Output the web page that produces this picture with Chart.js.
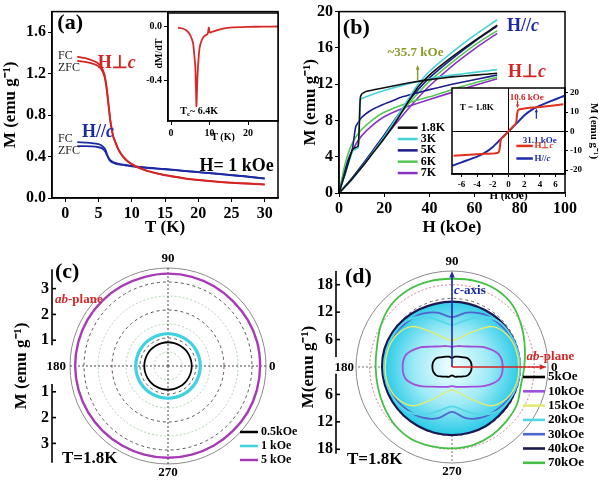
<!DOCTYPE html>
<html lang="en">
<head>
<meta charset="UTF-8" />
<title>Magnetization panels</title>
<style>
  html, body { margin: 0; background: #fff; }
  .wrap { position: relative; width: 600px; height: 485px; overflow: hidden; }
  .wrap canvas { position: absolute; }
</style>
<script src="https://cdn.jsdelivr.net/npm/chart.js"></script>
</head>
<body>
<div class="wrap">
  <canvas id="chartA" width="300" height="240" style="left:0;top:0"></canvas>
  <canvas id="insetA" width="145" height="140" style="left:145px;top:5px"></canvas>
  <canvas id="chartB" width="300" height="240" style="left:300px;top:0"></canvas>
  <canvas id="insetB" width="160" height="125" style="left:440px;top:80px"></canvas>
  <canvas id="chartC" width="300" height="245" style="left:0;top:240px"></canvas>
  <canvas id="chartD" width="300" height="245" style="left:300px;top:240px"></canvas>
</div>
<script>
// ---- (a) M vs T, H = 1 kOe
const tPerp = [1.8, 3, 4, 4.8, 5.4, 5.9, 6.2, 6.5, 6.8, 7.2, 7.6, 8.0, 8.7, 9.5, 10.5, 12, 14, 16, 18, 20, 22.5, 25, 27.5, 30];
const mPerpFC = [1.365, 1.35, 1.33, 1.305, 1.27, 1.19, 1.08, 0.91, 0.74, 0.6, 0.53, 0.47, 0.40, 0.35, 0.31, 0.27, 0.235, 0.21, 0.19, 0.175, 0.16, 0.148, 0.14, 0.132];
const mPerpZFC = [1.325, 1.315, 1.30, 1.28, 1.245, 1.17, 1.06, 0.895, 0.73, 0.595, 0.525, 0.465, 0.397, 0.348, 0.308, 0.268, 0.233, 0.208, 0.188, 0.173, 0.158, 0.146, 0.138, 0.13];
const tPar = [1.8, 3, 4, 5, 5.5, 6, 6.3, 6.6, 7, 7.5, 8, 9, 10, 12, 15, 18, 21, 24, 27, 30];
const mParFC = [0.54, 0.535, 0.53, 0.52, 0.505, 0.47, 0.42, 0.38, 0.355, 0.34, 0.33, 0.32, 0.31, 0.295, 0.28, 0.262, 0.245, 0.228, 0.21, 0.19];
const mParZFC = [0.50, 0.50, 0.498, 0.49, 0.48, 0.45, 0.41, 0.37, 0.345, 0.333, 0.325, 0.316, 0.306, 0.292, 0.277, 0.26, 0.243, 0.226, 0.208, 0.188];
const ticksTA = [0, 5, 10, 15, 20, 25, 30];
const ticksMA = [0, 0.4, 0.8, 1.2, 1.6];

// inset (a): dM/dT
const tDeriv = [1.8, 3, 4, 4.9, 5.7, 6.0, 6.3, 6.5, 6.6, 6.8, 7.0, 7.4, 8.0, 8.7, 9.5, 9.8, 10.1, 10.6, 11.7, 13.5, 16, 20, 24, 28];
const dMdT = [-0.008, -0.015, -0.03, -0.06, -0.12, -0.2, -0.3, -0.5, -0.59, -0.42, -0.3, -0.16, -0.1, -0.07, -0.055, -0.008, -0.045, -0.04, -0.03, -0.015, -0.007, -0.003, -0.001, 0];
const ticksTInset = [0, 10, 20];
const ticksDInset = [-0.4, 0];

// ---- (b) M vs H
const bTemps = ['1.8K', '3K', '5K', '6K', '7K'];
const hPerp18 = [0, 3, 6, 8.5, 9.4, 10, 12, 20, 30, 40, 50, 60, 70];
const mPerp18 = [0, 2.4, 4.8, 5.2, 10.4, 10.9, 11.2, 11.6, 12.1, 12.5, 12.8, 13.0, 13.2];
const hPerp3 = [0, 3, 6, 8.5, 9.2, 10, 15, 20, 30, 40, 50, 60, 70];
const mPerp3 = [0, 2.3, 4.6, 5.0, 10.1, 10.4, 10.9, 11.3, 12.0, 12.6, 13.0, 13.3, 13.6];
const hPerp5 = [0, 2, 4, 5.9, 7.4, 9.9, 14, 18, 23, 28, 34, 40, 50, 62, 70];
const mPerp5 = [0, 1.8, 3.6, 4.8, 7.3, 8.3, 9.1, 9.6, 10.1, 10.6, 11.0, 11.4, 12.0, 12.6, 13.0];
const hPerp67 = [0, 2.5, 5, 7.5, 10, 15, 20, 30, 40, 55, 70];
const mPerp6 = [0, 3.0, 5.0, 6.2, 7.0, 8.1, 8.9, 9.9, 10.6, 11.8, 12.8];
const mPerp7 = [0, 2.4, 4.2, 5.4, 6.3, 7.5, 8.4, 9.5, 10.3, 11.5, 12.6];
const hPar = [0, 5, 10, 15, 20, 25, 30, 35, 40, 50, 60, 70];
const mPar18 = [0, 1.3, 2.8, 4.4, 6.0, 7.8, 9.8, 11.7, 13.0, 15.0, 16.8, 18.5];
const mPar3 = [0, 1.3, 2.8, 4.5, 6.2, 8.1, 10.1, 12.0, 13.4, 15.5, 17.4, 19.1];
const mPar5 = [0, 1.4, 3.0, 4.7, 6.4, 8.2, 9.9, 11.4, 12.7, 14.8, 16.7, 18.4];
const mPar6 = [0, 1.4, 3.0, 4.6, 6.3, 8.0, 9.6, 11.0, 12.3, 14.4, 16.3, 17.9];
const mPar7 = [0, 1.4, 2.9, 4.5, 6.1, 7.6, 9.1, 10.5, 11.8, 14.0, 15.9, 17.6];
const ticksHB = [0, 20, 40, 60, 80, 100];
const ticksMB = [0, 4, 8, 12, 16, 20];

// inset (b): loops at T = 1.8 K
const hLoopPerp = [-7, -5, -3, -1.3, -1.1, -0.95, -0.5, 0, 0.5, 0.95, 1.1, 1.25, 2, 4, 7];
const mLoopPerp = [-12.6, -12.1, -11.6, -11.0, -8, -4.0, -2.2, 0, 2.2, 4.2, 9, 11.2, 11.8, 12.6, 14.0];
const hLoopPar = [-7.2, -6, -4, -3, -2, -1, 0, 1, 2, 3, 4, 6, 7.2];
const mLoopPar = [-17.8, -16.0, -13.0, -11.0, -8.0, -4.0, 0, 4.0, 8.2, 11.2, 13.3, 16.6, 18.5];
const ticksHLoop = [-6, -4, -2, 0, 2, 4, 6];
const ticksMLoop = [-20, -10, 0, 10, 20];

// ---- (c), (d) polar, angles 0..345 deg, counter-clockwise from the ab axis
const angles = [0, 15, 30, 45, 60, 75, 90, 105, 120, 135, 150, 165, 180, 195, 210, 225, 240, 255, 270, 285, 300, 315, 330, 345];
const cLabels = ['0.5kOe', '1 kOe', '5 kOe'];
const c05 = [0.92, 0.92, 0.92, 0.92, 0.92, 0.92, 0.92, 0.92, 0.92, 0.92, 0.92, 0.92, 0.92, 0.92, 0.92, 0.92, 0.92, 0.92, 0.92, 0.92, 0.92, 0.92, 0.92, 0.92];
const c1 = [1.25, 1.25, 1.25, 1.25, 1.25, 1.25, 1.25, 1.25, 1.25, 1.25, 1.25, 1.25, 1.25, 1.25, 1.25, 1.25, 1.25, 1.25, 1.25, 1.25, 1.25, 1.25, 1.25, 1.25];
const c5 = [3.57, 3.58, 3.57, 3.56, 3.57, 3.58, 3.58, 3.57, 3.58, 3.59, 3.6, 3.6, 3.6, 3.59, 3.58, 3.57, 3.56, 3.56, 3.56, 3.56, 3.56, 3.56, 3.57, 3.57];
const cRadialTicks = [1, 2, 3];

const dLabels = ['5kOe', '10kOe', '15kOe', '20kOe', '30kOe', '40kOe', '70kOe'];
const d5 = [4.3, 4.25, 3.9, 3.05, 2.6, 2.35, 1.95, 2.35, 2.6, 3.05, 3.9, 4.25, 4.3, 4.2, 3.8, 2.95, 2.45, 2.2, 1.85, 2.2, 2.45, 2.95, 3.8, 4.2];
const d10 = [11.1, 10.6, 8.5, 6.3, 5.2, 4.75, 4.4, 4.75, 5.2, 6.3, 8.4, 10.4, 10.8, 10.4, 8.3, 6.1, 5.0, 4.5, 4.2, 4.5, 5.0, 6.1, 8.3, 10.6];
const d15 = [14.6, 14.5, 14.0, 12.5, 8.8, 6.6, 5.8, 6.6, 8.8, 12.5, 14.0, 14.5, 14.6, 14.5, 13.8, 12.0, 8.0, 5.8, 5.0, 5.8, 8.0, 12.0, 13.8, 14.5];
const d20 = [14.9, 14.8, 14.6, 14.2, 12.8, 10.5, 9.2, 10.5, 12.8, 14.2, 14.6, 14.8, 14.9, 14.8, 14.5, 13.8, 12.0, 9.8, 8.6, 9.8, 12.0, 13.8, 14.5, 14.8];
const d30 = [14.8, 14.7, 14.4, 13.9, 13.4, 12.3, 10.9, 12.3, 13.4, 13.9, 14.4, 14.7, 14.8, 14.6, 14.2, 13.5, 12.8, 11.6, 9.8, 11.6, 12.8, 13.5, 14.2, 14.6];
const d40 = [14.8, 14.8, 14.7, 14.6, 14.4, 14.3, 14.3, 14.3, 14.5, 14.8, 15.1, 15.3, 15.3, 15.2, 15.1, 15.0, 14.9, 14.9, 14.9, 14.9, 14.9, 14.8, 14.8, 14.8];
const d70 = [15.8, 16.5, 17.6, 18.9, 19.5, 19.5, 19.3, 19.4, 19.4, 19.0, 18.0, 17.0, 16.7, 16.8, 17.2, 17.8, 18.1, 17.9, 17.8, 17.7, 17.3, 16.8, 16.4, 15.6];
const dRadialTicks = [6, 12, 18];

// ---- shared helpers
const SERIF = '"Liberation Serif", "Times New Roman", serif';
const f = (size, style) => (style || 'bold') + ' ' + size + 'px ' + SERIF;
const RED = '#d42424', BLUE = '#1c2aa6';
const bColors = ['#111111', '#45d3d8', '#1d1d8e', '#55c855', '#8a32c4'];
const cColors = ['#000000', '#3fd2e0', '#a83ab8'];
const dColors = ['#000000', '#a050d8', '#e2ea70', '#55d6e8', '#4f66cc', '#1a1850', '#44c044'];

function pts(xs, ys) { return xs.map((x, i) => ({ x: x, y: ys[i] })); }
function line(xs, ys, color, w) {
  return { data: pts(xs, ys), borderColor: color, borderWidth: w, showLine: true, pointRadius: 0, fill: false, tension: 0.25 };
}
function axis(min, max, ticks, title, size, fmt, tickFont, titleFont) {
  return {
    type: 'linear', min: min, max: max,
    afterBuildTicks: s => { s.ticks = ticks.map(v => ({ value: v })); },
    afterFit: s => { if (s.isHorizontal()) s.height = size; else s.width = size; },
    ticks: { font: tickFont, color: '#000', padding: 2, autoSkip: false, maxRotation: 0, callback: fmt },
    grid: { drawOnChartArea: false, tickLength: 4, color: '#000' },
    border: { color: '#000', width: 1.5 },
    title: { display: !!title, text: title, font: titleFont, color: '#000', padding: { top: 0, bottom: 2 } }
  };
}
function drawRich(ctx, x, y, parts, align) {
  let w = 0;
  parts.forEach(p => { ctx.font = p[1]; w += ctx.measureText(p[0]).width; });
  let cx = align === 'center' ? x - w / 2 : align === 'right' ? x - w : x;
  ctx.textBaseline = 'middle';
  ctx.textAlign = 'left';
  parts.forEach(p => {
    ctx.font = p[1];
    ctx.fillStyle = p[2];
    ctx.fillText(p[0], cx, y + (p[3] || 0));
    cx += ctx.measureText(p[0]).width;
  });
}
function arrow(ctx, x1, y1, x2, y2, color, w, head) {
  const a = Math.atan2(y2 - y1, x2 - x1);
  ctx.save();
  ctx.strokeStyle = color; ctx.fillStyle = color; ctx.lineWidth = w;
  ctx.beginPath(); ctx.moveTo(x1, y1); ctx.lineTo(x2 - Math.cos(a) * head * 0.6, y2 - Math.sin(a) * head * 0.6); ctx.stroke();
  ctx.beginPath();
  ctx.moveTo(x2, y2);
  ctx.lineTo(x2 - head * Math.cos(a - 0.4), y2 - head * Math.sin(a - 0.4));
  ctx.lineTo(x2 - head * Math.cos(a + 0.4), y2 - head * Math.sin(a + 0.4));
  ctx.closePath(); ctx.fill();
  ctx.restore();
}
function legendRows(ctx, x, y0, dy, len, labels, colors, font, lw) {
  labels.forEach((lab, i) => {
    const y = y0 + i * dy;
    ctx.strokeStyle = colors[i]; ctx.lineWidth = lw;
    ctx.beginPath(); ctx.moveTo(x, y); ctx.lineTo(x + len, y); ctx.stroke();
    drawRich(ctx, x + len + 3, y, [[lab, font, '#000']]);
  });
}
const frame = {
  id: 'frame',
  beforeDraw(chart, args, opts) {
    if (!opts.white) return;
    const a = chart.chartArea;
    chart.ctx.save(); chart.ctx.fillStyle = '#fff';
    chart.ctx.fillRect(a.left, a.top, a.width, a.height);
    chart.ctx.restore();
  },
  afterDraw(chart) {
    const a = chart.chartArea, ctx = chart.ctx;
    ctx.save(); ctx.strokeStyle = '#000'; ctx.lineWidth = 1.5;
    ctx.strokeRect(a.left, a.top, a.width, a.height);
    ctx.restore();
  }
};
const base = (padding, extra) => Object.assign({
  responsive: false, animation: false,
  layout: { padding: padding },
  plugins: { legend: { display: false }, tooltip: { enabled: false } }
}, extra || {});

// ---- (a)
new Chart('chartA', {
  type: 'scatter',
  data: { datasets: [
    line(tPerp, mPerpFC, RED, 1.8), line(tPerp, mPerpZFC, RED, 1.8),
    line(tPar, mParFC, BLUE, 1.8), line(tPar, mParZFC, BLUE, 1.8)
  ] },
  options: base({ top: 11, right: 22, left: 0, bottom: 0 }, {
    scales: {
      x: axis(-2, 32, ticksTA, 'T (K)', 42, v => v, { family: SERIF, weight: 'bold', size: 16 }, { family: SERIF, weight: 'bold', size: 17 }),
      y: axis(0, 1.8, ticksMA, 'M (emu g\u207B\u00B9)', 52, v => v.toFixed(1), { family: SERIF, weight: 'bold', size: 16 }, { family: SERIF, weight: 'bold', size: 17 })
    }
  }),
  plugins: [frame, {
    id: 'notesA',
    afterDatasetsDraw(chart) {
      const ctx = chart.ctx, X = v => chart.scales.x.getPixelForValue(v), Y = v => chart.scales.y.getPixelForValue(v);
      drawRich(ctx, X(-1.2), Y(1.69), [['(a)', f(22), '#000']]);
      drawRich(ctx, X(-1.1), Y(1.37), [['FC', f(12, 'normal'), '#222']]);
      drawRich(ctx, X(-1.1), Y(1.255), [['ZFC', f(12, 'normal'), '#222']]);
      drawRich(ctx, X(-1.1), Y(0.575), [['FC', f(12, 'normal'), '#222']]);
      drawRich(ctx, X(-1.1), Y(0.46), [['ZFC', f(12, 'normal'), '#222']]);
      drawRich(ctx, X(4.9), Y(1.30), [['H\u22A5', f(18), RED], ['c', f(18, 'bold italic'), RED]]);
      drawRich(ctx, X(2.5), Y(0.635), [['H//', f(18), BLUE], ['c', f(18, 'bold italic'), BLUE]]);
      drawRich(ctx, X(20.2), Y(0.31), [['H= 1 kOe', f(18), '#000']]);
    }
  }]
});

// inset (a)
new Chart('insetA', {
  type: 'scatter',
  data: { datasets: [line(tDeriv, dMdT, '#d42a2a', 1.8)] },
  options: base({ top: 6, right: 12, left: 0, bottom: 0 }, {
    plugins: { legend: { display: false }, tooltip: { enabled: false }, frame: { white: true } },
    scales: {
      x: axis(-0.8, 27.8, ticksTInset, 'T (K)', 24, v => v, { family: SERIF, weight: 'bold', size: 10 }, { family: SERIF, weight: 'bold', size: 10 }),
      y: axis(-0.7, 0.1, ticksDInset, '', 23, v => v.toFixed(1), { family: SERIF, weight: 'bold', size: 10 }, {})
    }
  }),
  plugins: [frame, {
    id: 'notesInA',
    afterDatasetsDraw(chart) {
      const ctx = chart.ctx, X = v => chart.scales.x.getPixelForValue(v), Y = v => chart.scales.y.getPixelForValue(v);
      drawRich(ctx, X(2.4), Y(-0.63), [['T', f(10), '#000'], ['c', f(7), '#000', 3], ['~ 6.4K', f(10), '#000']]);
      ctx.save();
      ctx.translate(14, Y(-0.2));
      ctx.rotate(-Math.PI / 2);
      drawRich(ctx, 0, 0, [['dM/dT', f(10), '#000']], 'center');
      ctx.restore();
    }
  }]
});

// ---- (b)
const perpH = [hPerp18, hPerp3, hPerp5, hPerp67, hPerp67];
const perpM = [mPerp18, mPerp3, mPerp5, mPerp6, mPerp7];
const parM = [mPar18, mPar3, mPar5, mPar6, mPar7];
const bSets = [];
bTemps.forEach((t, i) => {
  bSets.push(Object.assign(line(perpH[i], perpM[i], bColors[i], 1.6), { tension: 0.15 }));
  bSets.push(line(hPar, parM[i], bColors[i], 1.6));
});
new Chart('chartB', {
  type: 'scatter',
  data: { datasets: bSets },
  options: base({ top: 11, right: 35, left: 0, bottom: 0 }, {
    scales: {
      x: axis(0, 100, ticksHB, 'H (kOe)', 47, v => v, { family: SERIF, weight: 'bold', size: 16 }, { family: SERIF, weight: 'bold', size: 17 }),
      y: axis(0, 20, ticksMB, 'M (emu g\u207B\u00B9)', 39, v => v, { family: SERIF, weight: 'bold', size: 16 }, { family: SERIF, weight: 'bold', size: 17 })
    }
  }),
  plugins: [frame, {
    id: 'notesB',
    afterDatasetsDraw(chart) {
      const ctx = chart.ctx, X = v => chart.scales.x.getPixelForValue(v), Y = v => chart.scales.y.getPixelForValue(v);
      drawRich(ctx, X(1.7), Y(18.2), [['(b)', f(22), '#000']]);
      drawRich(ctx, X(74.3), Y(18.4), [['H//', f(18), BLUE], ['c', f(18, 'bold italic'), BLUE]]);
      drawRich(ctx, X(74.8), Y(13.3), [['H\u22A5', f(18), RED], ['c', f(18, 'bold italic'), RED]]);
      drawRich(ctx, X(21.5), Y(15.5), [['~35.7 kOe', f(13), '#8c9a2c']]);
      arrow(ctx, X(34.8), Y(12.4), X(34.8), Y(14.1), '#8c9a2c', 1.5, 5);
      ctx.save();
      legendRows(ctx, X(26), Y(7.2), Y(0) - Y(1.25), X(34.8) - X(26), bTemps, bColors, f(12), 2.5);
      ctx.restore();
    }
  }]
});

// inset (b)
new Chart('insetB', {
  type: 'scatter',
  data: { datasets: [line(hLoopPerp, mLoopPerp, '#e0301e', 2), line(hLoopPar, mLoopPar, '#1c2aa6', 2)] },
  options: base({ top: 8, right: 0, left: 12, bottom: 0 }, {
    plugins: { legend: { display: false }, tooltip: { enabled: false }, frame: { white: true } },
    scales: {
      x: Object.assign(axis(-7.2, 7.2, ticksHLoop, 'H (kOe)', 31, v => v, { family: SERIF, weight: 'bold', size: 9 }, { family: SERIF, weight: 'bold', size: 11 }), {
        grid: { drawOnChartArea: true, tickLength: 3, tickColor: '#000', color: c => (c.tick && c.tick.value === 0 ? '#000' : 'rgba(0,0,0,0)') }
      }),
      y: Object.assign(axis(-22, 22.4, ticksMLoop, 'M (emu g\u207B\u00B9)', 35, v => v, { family: SERIF, weight: 'bold', size: 9 }, { family: SERIF, weight: 'bold', size: 11 }), {
        position: 'right',
        grid: { drawOnChartArea: true, tickLength: 3, tickColor: '#000', color: c => (c.tick && c.tick.value === 0 ? '#000' : 'rgba(0,0,0,0)') }
      })
    }
  }),
  plugins: [frame, {
    id: 'notesInB',
    afterDatasetsDraw(chart) {
      const ctx = chart.ctx, X = v => chart.scales.x.getPixelForValue(v), Y = v => chart.scales.y.getPixelForValue(v);
      drawRich(ctx, X(-6.2), Y(12), [['T = 1.8K', f(9), '#000']]);
      drawRich(ctx, X(0.15), Y(17.5), [['10.6 kOe', f(9), '#d42424']]);
      arrow(ctx, X(1.15), Y(16), X(1.15), Y(12), '#d42424', 1.2, 4);
      drawRich(ctx, X(1.8), Y(-4.6), [['31.1 kOe', f(9), '#1c2aa6']]);
      arrow(ctx, X(3.55), Y(6.5), X(3.55), Y(11.8), '#1c2aa6', 1.2, 4);
      ctx.lineWidth = 2.5;
      [['H\u22A5', '#e0301e', -7.5], ['H//', '#1c2aa6', -14]].forEach(r => {
        ctx.strokeStyle = r[1];
        ctx.beginPath(); ctx.moveTo(X(1.0), Y(r[2])); ctx.lineTo(X(3.1), Y(r[2])); ctx.stroke();
        drawRich(ctx, X(3.3), Y(r[2]), [[r[0], f(9), r[1]], ['c', f(9, 'bold italic'), r[1]]]);
      });
    }
  }]
});

// ---- polar helpers (radar chart, 0 deg at right, counter-clockwise)
const ccw = arr => arr.map((_, i) => arr[(arr.length - i) % arr.length]);
function polarPlugin(cfg) {
  return {
    id: 'polarDecor',
    afterDraw(chart) {
      const s = chart.scales.r, ctx = chart.ctx, d = v => s.getDistanceFromCenterForValue(v);
      const xc = s.xCenter, yc = s.yCenter, R = d(s.max);
      ctx.save();
      // angle labels
      drawRich(ctx, xc, yc - R - 9, [['90', f(13), '#000']], 'center');
      drawRich(ctx, xc, yc + R + 9, [['270', f(13), '#000']], 'center');
      drawRich(ctx, xc + R + 3, yc + 1, [['0', f(13), '#000']]);
      drawRich(ctx, xc - R + cfg.left180, yc + 1, [['180', f(13), '#000']], 'right');
      // left radial axis
      ctx.strokeStyle = '#000'; ctx.lineWidth = 1.6;
      ctx.beginPath();
      ctx.moveTo(cfg.axisX, yc - d(cfg.upper[1])); ctx.lineTo(cfg.axisX, yc - d(cfg.upper[0]));
      ctx.moveTo(cfg.axisX, yc + d(cfg.lower[0])); ctx.lineTo(cfg.axisX, yc + d(cfg.lower[1]));
      ctx.stroke();
      cfg.ticks.forEach(v => {
        [-1, 1].forEach(sg => {
          const y = yc + sg * d(v);
          ctx.beginPath(); ctx.moveTo(cfg.axisX, y); ctx.lineTo(cfg.axisX + 4, y); ctx.stroke();
          drawRich(ctx, cfg.axisX - 3, y, [[String(v), f(16), '#000']], 'right');
        });
      });
      ctx.translate(cfg.titleX, yc);
      ctx.rotate(-Math.PI / 2);
      drawRich(ctx, 0, 0, [[cfg.title, f(17), '#000']], 'center');
      ctx.restore();
      cfg.extra(ctx, chart, xc, yc, d);
    }
  };
}
function polarScale(max, ringColor, ringDash, angleColor) {
  return {
    r: {
      min: 0, max: max, startAngle: 90,
      ticks: { display: false, count: 8 },
      pointLabels: { display: false },
      grid: { circular: true, color: ringColor, lineWidth: c => (c.index === 7 ? 1 : 0.9) },
      border: { dash: ringDash },
      angleLines: { color: angleColor, lineWidth: c => (c.index % 6 === 0 ? 0.9 : 0), borderDash: [2, 2] }
    }
  };
}
const radarSet = (label, arr, color, w) => ({
  label: label, data: ccw(arr), borderColor: color, borderWidth: w, pointRadius: 0, fill: false, tension: 0.33
});

// ---- (c)
new Chart('chartC', {
  type: 'radar',
  data: {
    labels: ccw(angles),
    datasets: [radarSet(cLabels[0], c05, cColors[0], 1.8), radarSet(cLabels[1], c1, cColors[1], 3.2), radarSet(cLabels[2], c5, cColors[2], 2.4)]
  },
  options: base({ left: 70, right: 34, top: 28, bottom: 21 }, {
    scales: polarScale(3.8,
      c => (c.index === 7 ? '#8a8a8a' : (c.index % 2 ? '#a6cfa6' : '#444')),
      c => (c.index === 7 ? [] : (c.index % 2 ? [2, 2] : [3, 3])),
      '#333')
  }),
  plugins: [polarPlugin({
    axisX: 52, upper: [0.8, 3.75], lower: [0.7, 3.75], ticks: cRadialTicks, titleX: 22, left180: -4,
    title: 'M (emu g\u207B\u00B9)',
    extra(ctx) {
      drawRich(ctx, 55, 32, [['(c)', f(22), '#000']]);
      drawRich(ctx, 55, 60, [['ab', f(13, 'bold italic'), '#d02a2a'], ['-plane', f(13), '#d02a2a']]);
      drawRich(ctx, 62, 219, [['T=1.8K', f(17), '#000']]);
      legendRows(ctx, 240, 192, 14, 18, cLabels, cColors, f(12), 2.5);
    }
  })]
});

// ---- (d)
const dSets = dLabels.map((lab, i) => radarSet(lab, [d5, d10, d15, d20, d30, d40, d70][i], dColors[i], i === 5 ? 2.2 : (i === 2 ? 1.4 : 1.8)));
dSets[5].fill = true;
dSets[5].backgroundColor = c => {
  const s = c.chart.scales.r;
  if (!s || !isFinite(s.xCenter)) return '#5fd8ec';
  const g = c.chart.ctx.createRadialGradient(s.xCenter, s.yCenter, 0, s.xCenter, s.yCenter, s.getDistanceFromCenterForValue(15.3));
  g.addColorStop(0, '#f4ffff');
  g.addColorStop(0.55, '#9ceaf6');
  g.addColorStop(1, '#22c8e6');
  return g;
};
new Chart('chartD', {
  type: 'radar',
  data: { labels: ccw(angles), datasets: dSets },
  options: base({ left: 56, right: 52, top: 31, bottom: 22 }, {
    scales: polarScale(21,
      c => (c.index === 7 ? '#8a8a8a' : (c.index % 2 ? '#555' : '#d0708c')),
      c => (c.index === 7 ? [] : (c.index % 2 ? [3, 3] : [2, 2])),
      '#666')
  }),
  plugins: [polarPlugin({
    axisX: 36, upper: [2.2, 21], lower: [1.5, 19], ticks: dRadialTicks, titleX: 9, left180: -2,
    title: 'M(emu g\u207B\u00B9)',
    extra(ctx, chart, xc, yc, d) {
      arrow(ctx, xc, yc, xc, yc - d(21), '#1c2aa6', 1.6, 7);
      arrow(ctx, xc, yc, xc + d(20.6), yc, '#d42424', 1.6, 7);
      drawRich(ctx, xc + 2, yc - d(16.7), [['c', f(13, 'bold italic'), '#1c2aa6'], ['-axis', f(13), '#1c2aa6']]);
      drawRich(ctx, xc + d(16.3), yc - 10, [['ab', f(13, 'bold italic'), '#d02a2a'], ['-plane', f(13), '#d02a2a']]);
      drawRich(ctx, 45, 37, [['(d)', f(22), '#000']]);
      drawRich(ctx, 47, 220, [['T=1.8K', f(17), '#000']]);
      legendRows(ctx, 223, 137, 14.3, 22, dLabels, dColors, f(13), 2.6);
    }
  })]
});
</script>
</body>
</html>
